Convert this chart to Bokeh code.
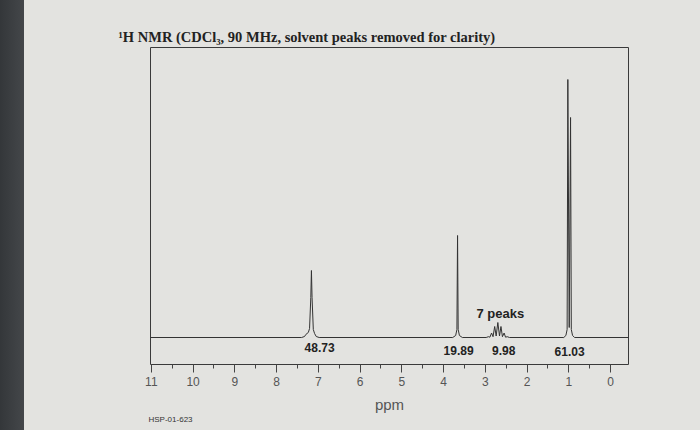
from bokeh.plotting import figure
from bokeh.models import Range1d, FixedTicker, ColumnDataSource, Label, Title
from bokeh.core.properties import value
from bokeh.embed import file_html
from bokeh.resources import INLINE

# ---- data (ppm, relative intensity) ----
spec_ppm = [11.02,
            7.40, 7.33, 7.30, 7.27, 7.24, 7.21, 7.18, 7.165, 7.15, 7.12, 7.09, 7.05, 6.98,
            3.78, 3.71, 3.68, 3.665, 3.65, 3.62, 3.55,
            2.98, 2.925, 2.89, 2.85, 2.815, 2.775, 2.74, 2.70, 2.66, 2.625, 2.59, 2.55, 2.515, 2.475, 2.42,
            1.12, 1.07, 1.04, 1.023, 0.99, 0.958, 0.94, 0.91, 0.86,
            -0.43]
spec_int = [0,
            0, 1, 3, 4, 5, 9, 40, 67, 40, 8, 4, 1, 0,
            0, 2, 8, 102, 8, 2, 0,
            0, 0.8, 0.3, 4.5, 0.8, 11, 1.5, 15, 1.5, 11, 0.8, 4.5, 0.3, 0.8, 0,
            0, 2, 8, 258, 10, 220, 8, 2, 0,
            0]

integral_values = ["48.73", "19.89", "9.98", "61.03"]
integral_ppm = [6.97, 3.64, 2.56, 0.98]
integral_y = [-10, -13, -13, -14]

tick_values = [0, 1, 2, 3, 4, 5, 6, 7, 8, 9, 10, 11]
minor_tick_values = [0.5, 1.5, 2.5, 3.5, 4.5, 5.5, 6.5, 7.5, 8.5, 9.5, 10.5]

title_text = "\u00b9H NMR (CDCl\u2083, 90 MHz, solvent peaks removed for clarity)"
sample_id = "HSP-01-623"
bg = "#e3e3e0"

p = figure(width=700, height=430, output_backend="svg", toolbar_location=None,
           x_range=Range1d(11.02, -0.43), y_range=Range1d(-27, 290),
           min_border_left=150, min_border_right=72, min_border_top=47,
           min_border_bottom=66)
p.background_fill_color = bg
p.border_fill_color = bg
p.border_fill_alpha = 0
p.outline_line_color = "#3a3a3a"
p.outline_line_width = 1
p.grid.visible = False
p.yaxis.visible = False

p.title = Title(text=title_text, align="left", offset=-32, standoff=5,
                text_font="Liberation Serif", text_font_style="bold",
                text_font_size="14.5px", text_color="#222")

ax = p.xaxis[0]
ax.ticker = FixedTicker(ticks=tick_values, minor_ticks=minor_tick_values)
ax.axis_line_color = None
ax.major_tick_in = 0
ax.major_tick_out = 8
ax.minor_tick_in = 0
ax.minor_tick_out = 4
ax.major_tick_line_color = "#444"
ax.minor_tick_line_color = "#444"
ax.major_label_text_font = "Liberation Sans"
ax.major_label_text_font_size = "12px"
ax.major_label_text_color = "#555"
ax.major_label_standoff = 4
ax.axis_label = "ppm"
ax.axis_label_text_font = "Liberation Sans"
ax.axis_label_text_font_size = "15px"
ax.axis_label_text_font_style = "normal"
ax.axis_label_text_color = "#555"
ax.axis_label_standoff = 7

p.add_layout(Title(text=sample_id, align="left", offset=-2, standoff=-16,
                   text_font="Liberation Sans", text_font_style="normal",
                   text_font_size="8px", text_color="#333"), "below")

p.line(spec_ppm, spec_int, line_color="#333", line_width=1)

src = ColumnDataSource(dict(x=integral_ppm, y=integral_y, t=integral_values))
p.text(x="x", y="y", text="t", source=src, text_font=value("Liberation Sans"),
       text_font_style="bold", text_font_size="12px", text_color="#222",
       text_align="center", text_baseline="middle")

p.add_layout(Label(x=2.64, y=24, text="7 peaks", text_font="Liberation Sans",
                   text_font_style="bold", text_font_size="13px", text_color="#222",
                   text_align="center", text_baseline="middle"))

html = file_html(p, INLINE)
i = html.rfind("<body")
html = html[:i] + '<body style="background:linear-gradient(to right,#34373a 0px,#44474a 24px,%s 24px)"' % bg + html[i + 5:]
open("out.html", "w").write(html)
